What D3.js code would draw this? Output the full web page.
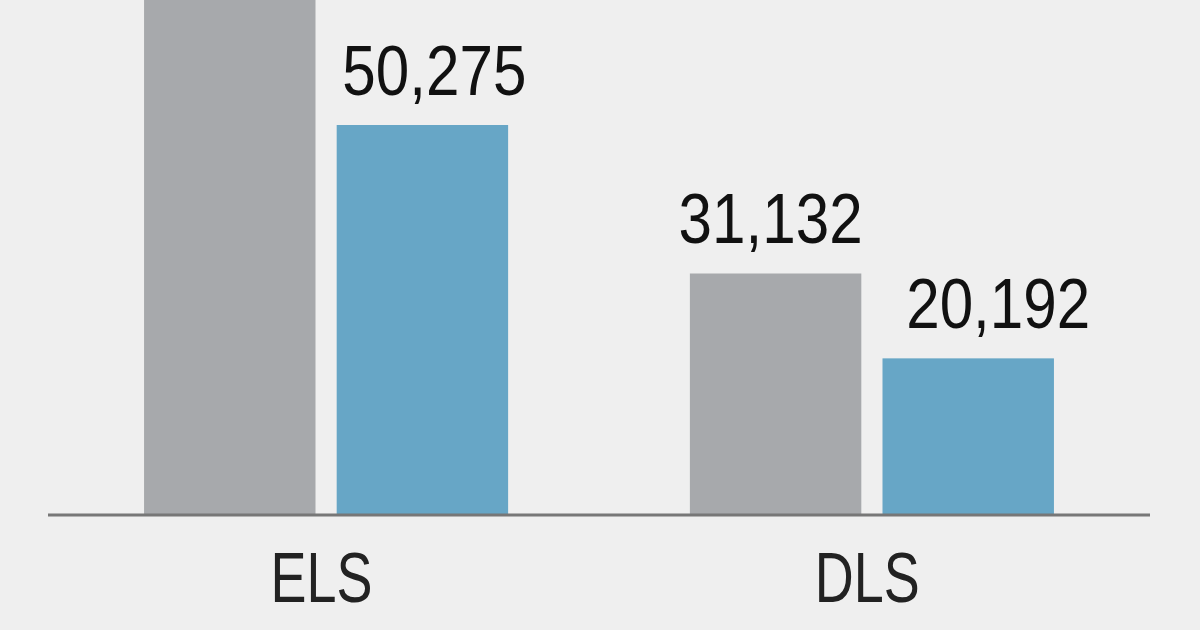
<!DOCTYPE html>
<html>
<head>
<meta charset="utf-8">
<script src="https://cdn.jsdelivr.net/npm/d3@7"></script>
<style>
  html, body { margin: 0; padding: 0; background: #efefef; }
  svg { display: block; }
</style>
</head>
<body>
<svg id="chart" width="1200" height="630"></svg>
<script>
// ---- data ----
const categories = ["ELS", "DLS"];
const series = ["gray", "blue"];
// ELS gray bar runs past the top of the picture; its value is cut off (estimated)
const grayValues = [78000, 31132];
const blueValues = [50275, 20192];

// ---- layout ----
const W = 1200, H = 630;
const baseY = 515;
const colors = { gray: "#a7a9ac", blue: "#67a6c6" };
const labelDx = { gray: [0, -5], blue: [12, 30] };
const FONT = "'Liberation Sans', Arial, Helvetica, sans-serif";

const svg = d3.select("#chart");
svg.append("rect").attr("width", W).attr("height", H).attr("fill", "#efefef");

const x0 = d3.scaleBand().domain(categories).range([48, 1150])
  .paddingInner(0.333).paddingOuter(0.176);
const x1 = d3.scaleBand().domain(series).range([0, x0.bandwidth()])
  .paddingInner(0.11).paddingOuter(0);
const y = d3.scaleLinear().domain([0, 50275]).range([baseY, 125]);

const rows = categories.map((c, i) => ({
  cat: c,
  vals: [
    { s: "gray", v: grayValues[i], i },
    { s: "blue", v: blueValues[i], i }
  ]
}));

const g = svg.append("g");
const groups = g.selectAll("g.grp").data(rows).join("g")
  .attr("class", "grp")
  .attr("transform", d => `translate(${x0(d.cat)},0)`);

groups.selectAll("rect").data(d => d.vals).join("rect")
  .attr("x", d => x1(d.s))
  .attr("y", d => y(d.v))
  .attr("width", x1.bandwidth())
  .attr("height", d => baseY - y(d.v))
  .attr("fill", d => colors[d.s]);

// value labels (the one above the cropped bar lies outside the picture, as in the reference)
const fmt = d3.format(",");
groups.selectAll("text.val").data(d => d.vals.filter(v => y(v.v) - 80 > 0)).join("text")
  .attr("class", "val")
  .attr("transform", d => `translate(${x1(d.s) + x1.bandwidth() / 2 + labelDx[d.s][d.i]},${y(d.v) - 30}) scale(0.86,1)`)
  .attr("text-anchor", "middle")
  .attr("font-family", FONT)
  .attr("font-size", 70)
  .attr("fill", "#111")
  .text(d => fmt(d.v));

// axis
const axis = d3.axisBottom(x0).tickSize(0).tickPadding(37);
const ax = svg.append("g").attr("transform", `translate(0,${baseY})`).call(axis);
ax.select(".domain").attr("stroke", "#777").attr("stroke-width", 3)
  .attr("d", "M48,0H1150");
ax.selectAll(".tick text")
  .attr("dx", -6)
  .attr("transform", "scale(0.77,1)")
  .attr("font-family", FONT)
  .attr("font-size", 70)
  .attr("fill", "#222");
</script>
</body>
</html>
